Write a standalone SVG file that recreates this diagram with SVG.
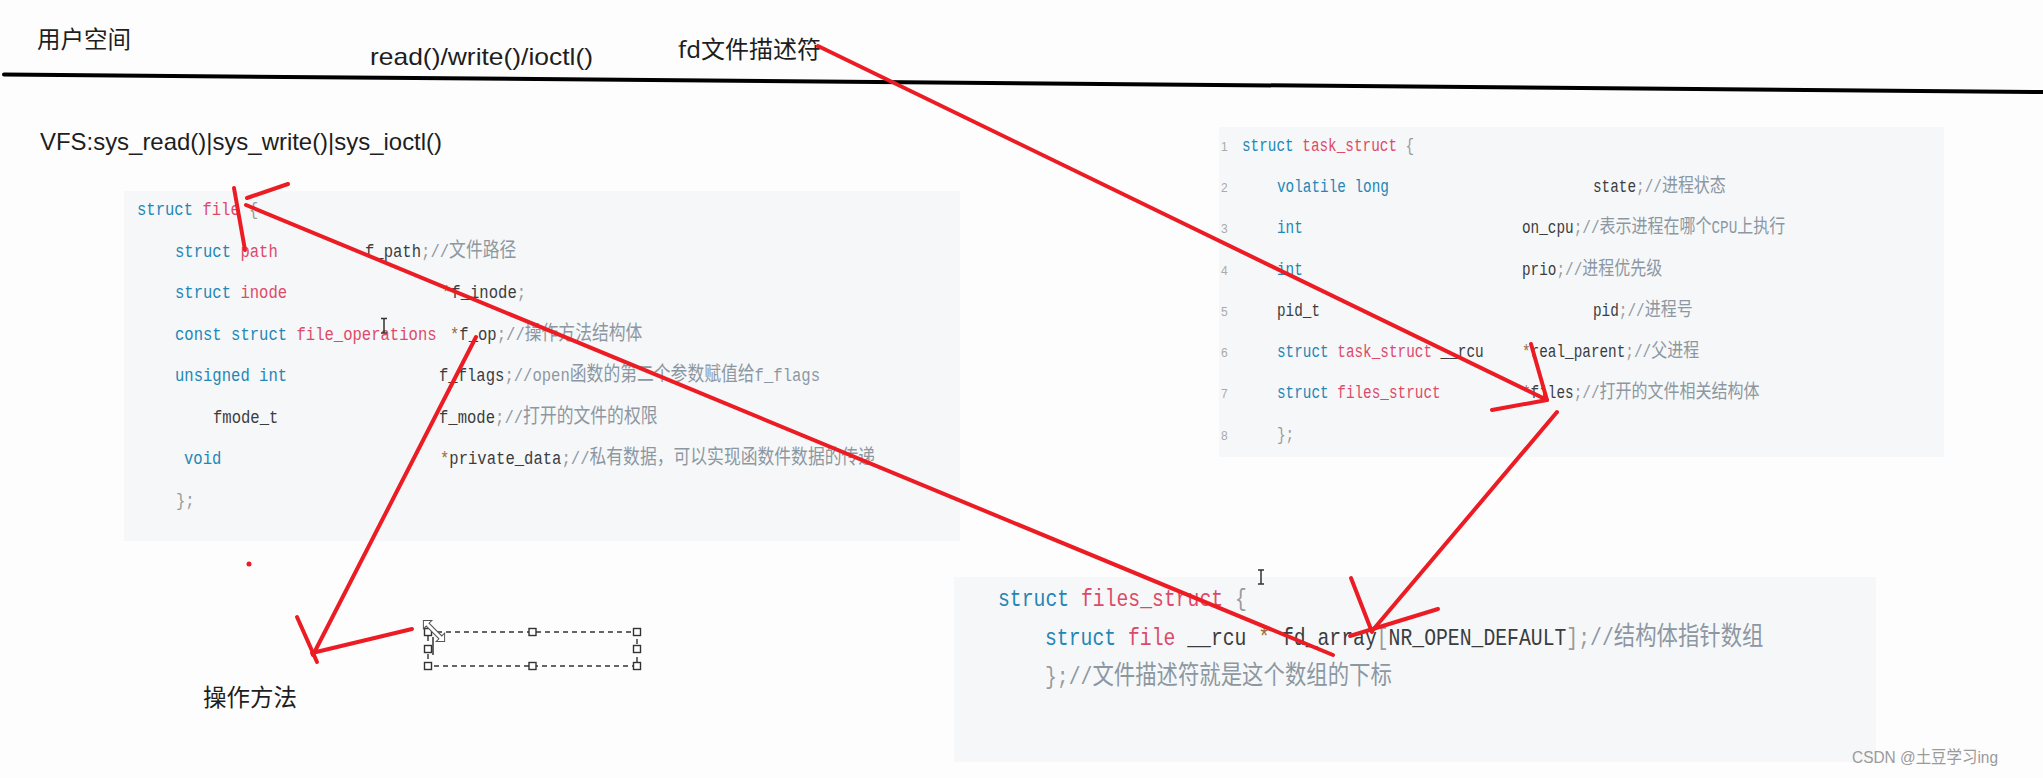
<svg xmlns="http://www.w3.org/2000/svg" width="2043" height="778" viewBox="0 0 2043 778">
<defs>
<style>
.lbl{font-family:"Noto Sans","Noto Sans CJK SC",sans-serif;fill:#1e1e1e;font-size:23.5px}
.lat{font-family:"Liberation Sans","Noto Sans CJK SC",sans-serif;fill:#1e1e1e;font-size:24px}
.box{fill:#f6f7f9}
.c{font-family:"Liberation Mono","Noto Sans CJK SC",monospace;fill:#3a3c3e}
.f1{font-size:19px}
.f2{font-size:17.5px}
.f3{font-size:24px}
.kw{fill:#2286b6}
.ty{fill:#dd4a68}
.pu{fill:#9a9a9a}
.cm{fill:#8c97a2}
.op{fill:#9a6e3a}
.z1{font-family:"Noto Sans CJK SC",sans-serif;font-size:20.5px}
.z2{font-family:"Noto Sans CJK SC",sans-serif;font-size:19.5px}
.z3{font-family:"Noto Sans CJK SC",sans-serif;font-size:26px}
.ln{font-family:"Liberation Sans",sans-serif;font-size:12px;fill:#aaa}
.red{stroke:#ec1c24;stroke-width:4;stroke-linecap:round;stroke-linejoin:round;fill:none}
.cur{stroke:#333;stroke-width:1.5;fill:none}
.hd{fill:#fff;stroke:#333;stroke-width:1.4}
.dash{fill:none;stroke:#333;stroke-width:1.4;stroke-dasharray:5 4}
</style>
</defs>
<rect width="2043" height="778" fill="#fdfdfd"/>

<g id="user-space-label"><text class="lbl" x="37" y="48">用户空间</text></g>
<g id="syscall-label"><text class="lat" x="370" y="65" textLength="223" lengthAdjust="spacingAndGlyphs">read()/write()/ioctl()</text></g>
<g id="fd-label"><text class="lbl" x="678" y="58" style="font-size:24px">fd文件描述符</text></g>
<g id="boundary-line"><line x1="4" y1="74.5" x2="2043" y2="92" stroke="#000" stroke-width="4" stroke-linecap="round"/></g>
<g id="vfs-label"><text class="lat" x="40" y="150" textLength="402" lengthAdjust="spacingAndGlyphs">VFS:sys_read()|sys_write()|sys_ioctl()</text></g>

<g id="struct-file">
<rect class="box" x="124" y="191" width="836" height="350"/>
<text class="c f1" transform="translate(137,215) scale(.82,1)"><tspan class="kw">struct</tspan> <tspan class="ty">file</tspan> <tspan class="pu">{</tspan></text>
<text class="c f1" transform="translate(175,256.5) scale(.82,1)"><tspan class="kw">struct</tspan> <tspan class="ty">path</tspan></text>
<text class="c f1" transform="translate(365,256.5) scale(.82,1)">f_path<tspan class="pu">;</tspan><tspan class="cm">//<tspan class="z1">文件路径</tspan></tspan></text>
<text class="c f1" transform="translate(175,298) scale(.82,1)"><tspan class="kw">struct</tspan> <tspan class="ty">inode</tspan></text>
<text class="c f1" transform="translate(442,298) scale(.82,1)"><tspan class="op">*</tspan>f_inode<tspan class="pu">;</tspan></text>
<text class="c f1" transform="translate(175,339.5) scale(.82,1)"><tspan class="kw">const struct</tspan> <tspan class="ty">file_operations</tspan></text>
<text class="c f1" transform="translate(450,339.5) scale(.82,1)"><tspan class="op">*</tspan>f_op<tspan class="pu">;</tspan><tspan class="cm">//<tspan class="z1">操作方法结构体</tspan></tspan></text>
<text class="c f1" transform="translate(175,381) scale(.82,1)"><tspan class="kw">unsigned int</tspan></text>
<text class="c f1" transform="translate(439,381) scale(.82,1)">f_flags<tspan class="pu">;</tspan><tspan class="cm">//open<tspan class="z1">函数的第二个参数赋值给</tspan>f_flags</tspan></text>
<text class="c f1" transform="translate(213,422.5) scale(.82,1)">fmode_t</text>
<text class="c f1" transform="translate(439,422.5) scale(.82,1)">f_mode<tspan class="pu">;</tspan><tspan class="cm">//<tspan class="z1">打开的文件的权限</tspan></tspan></text>
<text class="c f1" transform="translate(184,464) scale(.82,1)"><tspan class="kw">void</tspan></text>
<text class="c f1" transform="translate(440,464) scale(.82,1)"><tspan class="op">*</tspan>private_data<tspan class="pu">;</tspan><tspan class="cm">//<tspan class="z1">私有数据，可以实现函数件数据的传递</tspan></tspan></text>
<text class="c f1" transform="translate(176,505.5) scale(.82,1)"><tspan class="pu">};</tspan></text>
<path class="cur" d="M381,318.5h6M384,318.5V333M381,333h6"/>
</g>

<g id="task-struct">
<rect class="box" x="1219" y="127" width="725" height="330"/>
<text class="ln" x="1221" y="151">1</text>
<text class="ln" x="1221" y="192">2</text>
<text class="ln" x="1221" y="233">3</text>
<text class="ln" x="1221" y="274.5">4</text>
<text class="ln" x="1221" y="316">5</text>
<text class="ln" x="1221" y="357">6</text>
<text class="ln" x="1221" y="398">7</text>
<text class="ln" x="1221" y="439.5">8</text>
<text class="c f2" transform="translate(1242,151) scale(.82,1)"><tspan class="kw">struct</tspan> <tspan class="ty">task_struct</tspan> <tspan class="pu">{</tspan></text>
<text class="c f2" transform="translate(1277,192) scale(.82,1)"><tspan class="kw">volatile long</tspan></text>
<text class="c f2" transform="translate(1593,192) scale(.82,1)">state<tspan class="pu">;</tspan><tspan class="cm">//<tspan class="z2">进程状态</tspan></tspan></text>
<text class="c f2" transform="translate(1277,233) scale(.82,1)"><tspan class="kw">int</tspan></text>
<text class="c f2" transform="translate(1522,233) scale(.82,1)">on_cpu<tspan class="pu">;</tspan><tspan class="cm">//<tspan class="z2">表示进程在哪个</tspan>CPU<tspan class="z2">上执行</tspan></tspan></text>
<text class="c f2" transform="translate(1277,274.5) scale(.82,1)"><tspan class="kw">int</tspan></text>
<text class="c f2" transform="translate(1522,274.5) scale(.82,1)">prio<tspan class="pu">;</tspan><tspan class="cm">//<tspan class="z2">进程优先级</tspan></tspan></text>
<text class="c f2" transform="translate(1277,316) scale(.82,1)">pid_t</text>
<text class="c f2" transform="translate(1593,316) scale(.82,1)">pid<tspan class="pu">;</tspan><tspan class="cm">//<tspan class="z2">进程号</tspan></tspan></text>
<text class="c f2" transform="translate(1277,357) scale(.82,1)"><tspan class="kw">struct</tspan> <tspan class="ty">task_struct</tspan> __rcu</text>
<text class="c f2" transform="translate(1522,357) scale(.82,1)"><tspan class="op">*</tspan>real_parent<tspan class="pu">;</tspan><tspan class="cm">//<tspan class="z2">父进程</tspan></tspan></text>
<text class="c f2" transform="translate(1277,398) scale(.82,1)"><tspan class="kw">struct</tspan> <tspan class="ty">files_struct</tspan></text>
<text class="c f2" transform="translate(1522,398) scale(.82,1)"><tspan class="op">*</tspan>files<tspan class="pu">;</tspan><tspan class="cm">//<tspan class="z2">打开的文件相关结构体</tspan></tspan></text>
<text class="c f2" transform="translate(1277,439.5) scale(.82,1)"><tspan class="pu">};</tspan></text>
</g>

<g id="files-struct">
<rect class="box" x="954" y="577" width="922" height="185"/>
<text class="c f3" transform="translate(998,606) scale(.823,1)"><tspan class="kw">struct</tspan> <tspan class="ty">files_struct</tspan> <tspan class="pu">{</tspan></text>
<text class="c f3" transform="translate(1045,645) scale(.823,1)"><tspan class="kw">struct</tspan> <tspan class="ty">file</tspan> __rcu <tspan class="op">*</tspan> fd_array<tspan class="pu">[</tspan>NR_OPEN_DEFAULT<tspan class="pu">];</tspan><tspan class="cm">//<tspan class="z3">结构体指针数组</tspan></tspan></text>
<text class="c f3" transform="translate(1045,684) scale(.823,1)"><tspan class="pu">};</tspan><tspan class="cm">//<tspan class="z3">文件描述符就是这个数组的下标</tspan></tspan></text>
<path class="cur" d="M1258,570h6M1261,570V584M1258,584h6"/>
</g>

<g id="ops-label"><text class="lbl" x="203" y="706" fill="#333">操作方法</text></g>

<g id="selection-box">
<rect class="dash" x="428" y="632" width="209" height="34"/>
<rect class="hd" x="424.5" y="628.5" width="7" height="7"/>
<rect class="hd" x="529" y="628.5" width="7" height="7"/>
<rect class="hd" x="633.5" y="628.5" width="7" height="7"/>
<rect class="hd" x="424.5" y="645.5" width="7" height="7"/>
<rect class="hd" x="633.5" y="645.5" width="7" height="7"/>
<rect class="hd" x="424.5" y="662.5" width="7" height="7"/>
<rect class="hd" x="529" y="662.5" width="7" height="7"/>
<rect class="hd" x="633.5" y="662.5" width="7" height="7"/>
<polygon points="-15,0 -9,-6 -9,-2 9,-2 9,-6 15,0 9,6 9,2 -9,2 -9,6" fill="#fff" stroke="#555" stroke-width="1" transform="translate(434,631) rotate(45)"/>
<path class="cur" d="M433,637V655"/>
</g>

<g id="connectors">
<line class="red" x1="818" y1="46" x2="1547" y2="400"/>
<polyline class="red" points="1492,410 1547,400 1531,344"/>
<line class="red" x1="1557" y1="412" x2="1372" y2="631"/>
<line class="red" x1="1351" y1="578" x2="1372" y2="632"/>
<line class="red" x1="1438" y1="609" x2="1350" y2="636"/>
<line class="red" x1="1333" y1="655" x2="246" y2="205"/>
<line class="red" x1="234" y1="188" x2="245" y2="250"/>
<line class="red" x1="288" y1="184" x2="247" y2="198"/>
<line class="red" x1="476" y1="337" x2="313" y2="655"/>
<line class="red" x1="297" y1="617" x2="317" y2="662"/>
<line class="red" x1="412" y1="629" x2="312" y2="653"/>
<circle cx="249" cy="564" r="2.5" fill="#ec1c24"/>
</g>

<g id="watermark"><text x="1852" y="763" font-family="Liberation Sans,Noto Sans CJK SC,sans-serif" font-size="17" fill="#9a9a9a" textLength="146" lengthAdjust="spacingAndGlyphs">CSDN @土豆学习ing</text></g>
</svg>
